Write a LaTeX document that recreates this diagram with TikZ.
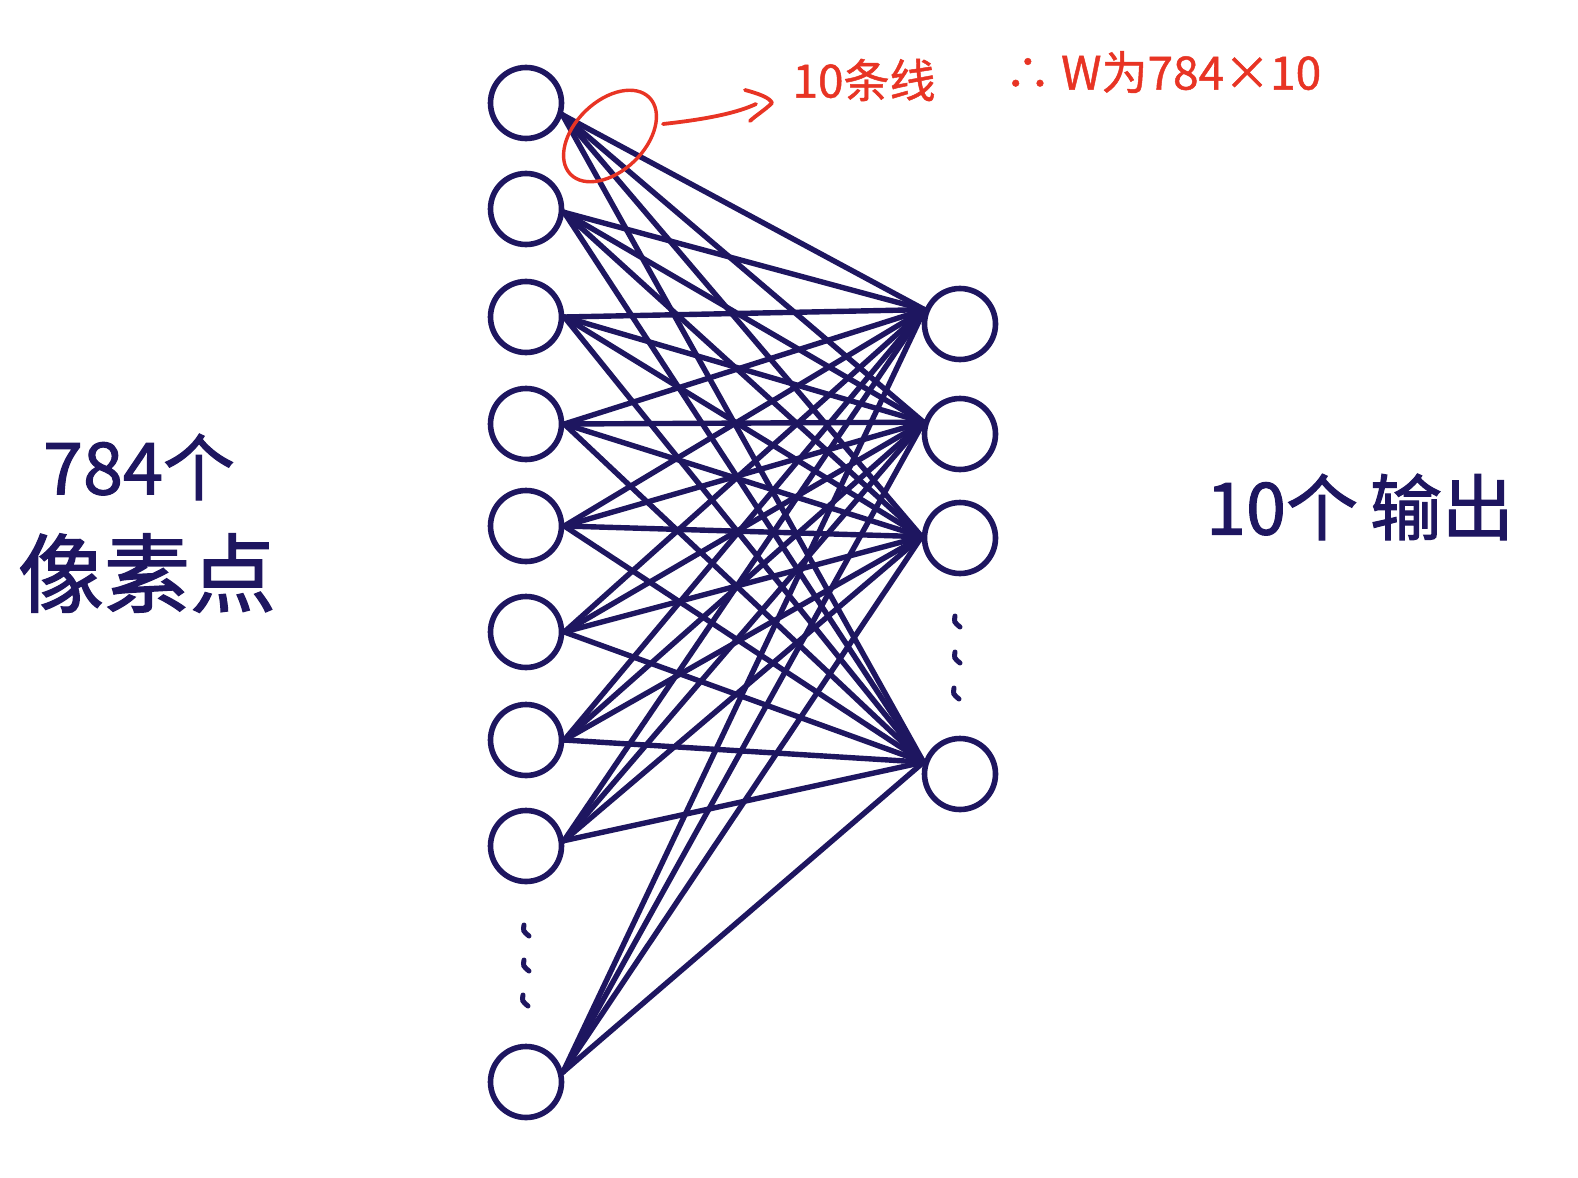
\documentclass[tikz,border=0pt]{standalone}
\usepackage{fontspec}
\newfontfamily\cjk[FakeBold=1.5]{Noto Sans CJK SC}
\newfontfamily\cjkred[FakeBold=1]{Noto Sans CJK SC}
\usetikzlibrary{shapes.geometric}
\definecolor{navy}{RGB}{30,22,96}
\definecolor{pen}{RGB}{232,52,36}
\begin{document}
\begin{tikzpicture}[x=1pt,y=-1pt,
  neuron/.style={circle,draw=navy,line width=5.6pt,minimum size=71pt,inner sep=0pt},
  edge/.style={navy,line width=5.4pt,line cap=round},
  tick/.style={navy,line width=5pt,line cap=round},
  ring/.style={ellipse,draw=pen,line width=3.4pt,minimum width=110pt,minimum height=70pt,inner sep=0pt},
  redpen/.style={pen,line width=3.8pt,line cap=round,line join=round},
  ink/.style={text=navy,inner sep=0pt},
  redink/.style={text=pen,inner sep=0pt}]
\useasboundingbox[fill=white] (0,0) rectangle (1578,1177);
% input layer
\foreach \n/\y in {1/103,2/209,3/317,4/424,5/526,6/632,7/740,8/846,9/1082}
  \node[neuron] (L\n) at (526,\y) {};
% output layer
\foreach \n/\y in {1/324,2/434,3/538,4/774}
  \node[neuron] (R\n) at (960,\y) {};
% connections
\foreach \i/\a in {1/-18,2/-5,3/0,4/0,5/0,6/0,7/0,8/8,9/15}{
  \foreach \j/\b in {1/158,2/162,3/178,4/162}{
    \draw[edge] (L\i.\a) -- (R\j.\b);
  }
}
% ellipsis dots
\foreach \x/\y in {527/931,527/966,526/1001,958/622,958/658,957/694}{
  \draw[tick] (\x-3,\y-6) .. controls (\x-4,\y) .. (\x+2,\y+5);
}
% red annotation
\node[ring,rotate=44] (loop) at (610,136) {};
\coordinate (tail) at (663,124);
\coordinate (tip) at (772,103);
\draw[redpen] (tail) .. controls (700,120) and (735,114) .. (756,104);
\draw[redpen] (745,90) .. controls (760,94) and (770,98) .. (tip) .. controls (765,110) and (755,116) .. (750,121);
\node[redink,font=\cjkred\fontsize{46pt}{50pt}\selectfont] (note1) at (864,80) {10条线};
\node[redink,font=\cjkred\fontsize{46pt}{50pt}\selectfont] (note2) at (1163,72) {∴ W为784×10};
% layer labels
\node[ink,font=\cjk\fontsize{72pt}{80pt}\selectfont] (inlab1) at (139,467) {784个};
\node[ink,font=\cjk\fontsize{86pt}{90pt}\selectfont] (inlab2) at (147,573) {像素点};
\node[ink,font=\cjk\fontsize{72pt}{80pt}\selectfont] (outlab) at (1360,507) {10个\,输出};
\end{tikzpicture}
\end{document}
